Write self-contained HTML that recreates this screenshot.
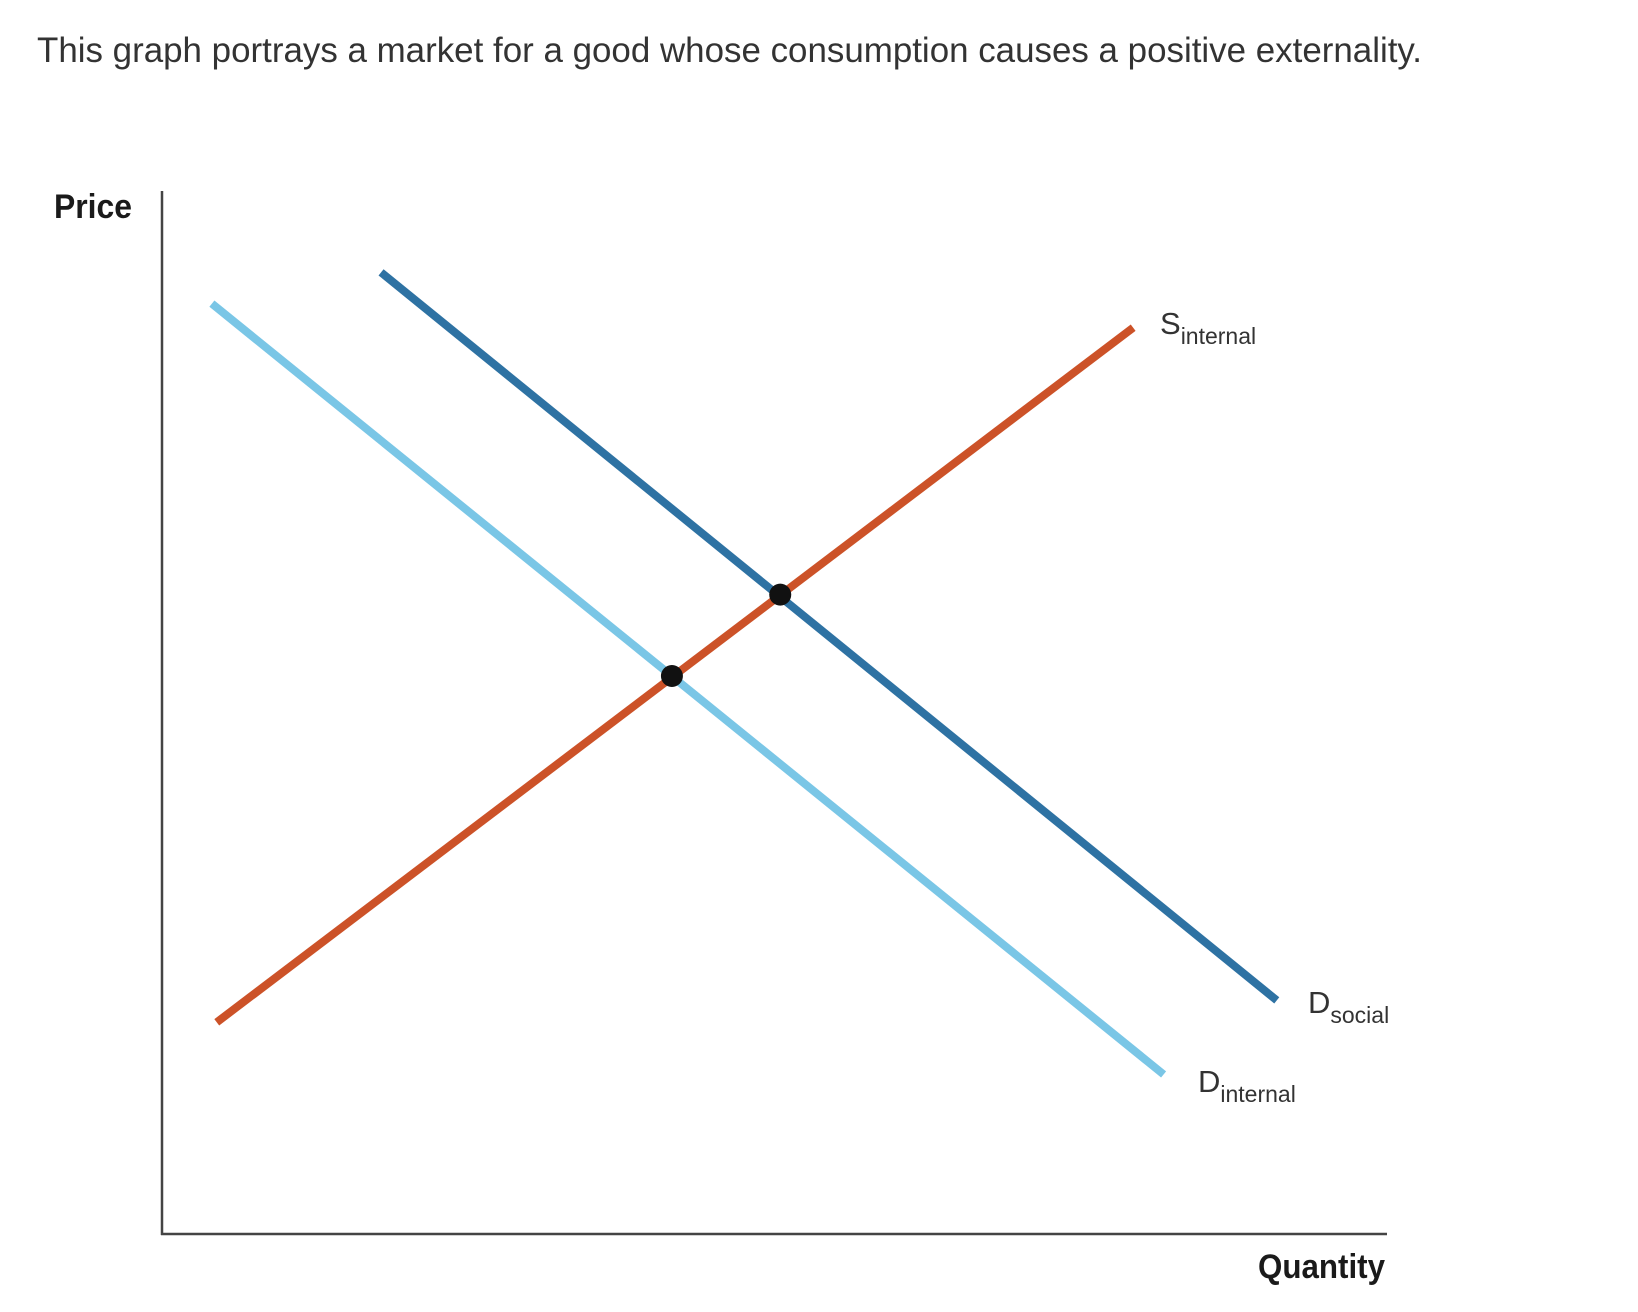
<!DOCTYPE html>
<html><head><meta charset="utf-8"><style>
html,body{margin:0;padding:0;background:#fff;width:1638px;height:1312px;overflow:hidden}
svg{display:block}
</style></head><body>
<svg id="chart" width="1638" height="1312" viewBox="0 0 1638 1312" xmlns="http://www.w3.org/2000/svg">
<text x="37" y="62" font-family="'Liberation Sans',sans-serif" font-size="35" fill="#333" textLength="1385" lengthAdjust="spacingAndGlyphs">This graph portrays a market for a good whose consumption causes a positive externality.</text>
<text x="54" y="218" font-family="'Liberation Sans',sans-serif" font-weight="bold" font-size="34" fill="#1a1a1a" textLength="78" lengthAdjust="spacingAndGlyphs">Price</text>
<text x="1258" y="1278" font-family="'Liberation Sans',sans-serif" font-weight="bold" font-size="34" fill="#1a1a1a" textLength="127" lengthAdjust="spacingAndGlyphs">Quantity</text>
<line x1="162" y1="191" x2="162" y2="1235" stroke="#444" stroke-width="2.5"/>
<line x1="161" y1="1234" x2="1387" y2="1234" stroke="#444" stroke-width="2.5"/>
<g id="series"></g>
<text x="1160" y="334" font-family="'Liberation Sans',sans-serif" font-size="31" fill="#333">S<tspan font-size="23" dy="10">internal</tspan></text>
<text x="1308" y="1013" font-family="'Liberation Sans',sans-serif" font-size="31" fill="#333">D<tspan font-size="23" dy="10">social</tspan></text>
<text x="1198" y="1092" font-family="'Liberation Sans',sans-serif" font-size="31" fill="#333">D<tspan font-size="23" dy="10">internal</tspan></text>
</svg>
<script>
const seriesNames = ["demand-internal", "demand-social", "supply-internal"];
const seriesQ = [[4.1, 82.3], [18.0, 91.6], [4.5, 79.8]];
const seriesP = [[89.2, 15.3], [92.2, 22.4], [20.3, 86.9]];
const seriesColors = ["#7AC6E6", "#2E72A3", "#CC5228"];
const equilibriumNames = ["social-equilibrium-point", "market-equilibrium-point"];
const equilibriumQ = [50.8, 41.9];
const equilibriumP = [61.3, 53.5];

const X0 = 162, X1 = 1379, Y0 = 1234, Y1 = 191;
function xScale(q){ return X0 + (X1 - X0) * q / 100; }
function yScale(p){ return Y0 - (Y0 - Y1) * p / 100; }

const NS = "http://www.w3.org/2000/svg";
const g = document.getElementById("series");
for (let i = 0; i < seriesNames.length; i++) {
  const l = document.createElementNS(NS, "line");
  l.setAttribute("x1", xScale(seriesQ[i][0]));
  l.setAttribute("y1", yScale(seriesP[i][0]));
  l.setAttribute("x2", xScale(seriesQ[i][1]));
  l.setAttribute("y2", yScale(seriesP[i][1]));
  l.setAttribute("stroke", seriesColors[i]);
  l.setAttribute("stroke-width", "8");
  
  
  g.appendChild(l);
}
for (let i = 0; i < equilibriumNames.length; i++) {
  const c = document.createElementNS(NS, "circle");
  c.setAttribute("cx", xScale(equilibriumQ[i]));
  c.setAttribute("cy", yScale(equilibriumP[i]));
  c.setAttribute("r", "11");
  c.setAttribute("fill", "#111");
  
  
  g.appendChild(c);
}
</script>
</body></html>
